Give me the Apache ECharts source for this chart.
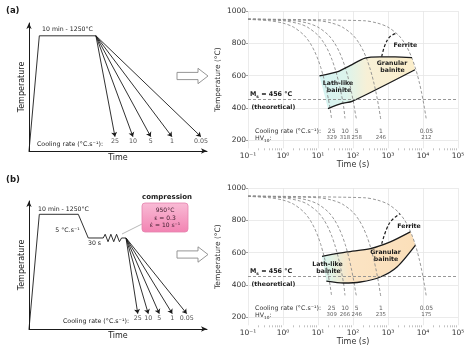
<!DOCTYPE html>
<html><head><meta charset="utf-8">
<script src="https://cdn.jsdelivr.net/npm/echarts@6/dist/echarts.min.js"></script>
<style>html,body{margin:0;padding:0;background:#fff}#c{width:474px;height:355px}</style>
</head><body><div id="c"></div>
<script>
// ---------------- DATA ----------------
const rateLabels = ['25', '10', '5', '1', '0.05'];
const hvA = [329, 318, 258, 246, 212];
const hvB = [309, 266, 246, 235, 175];
const yTicks = [200, 400, 600, 800, 1000];
const xTickLabels = ['10\u207B\u00B9', '10\u2070', '10\u00B9', '10\u00B2', '10\u00B3', '10\u2074', '10\u2075'];
const Ms = 456;

// schematic thermal cycles (arbitrary units, time vs temperature)
const profA = [[0, 0], [5.8, 90], [37.6, 90]];
const fanEndA = [48.3, 58.4, 68.4, 80.3, 96.6];
const fanEndTA = 11.2;
const profB = [[0, 0], [5.8, 89.6], [27.7, 89.6], [33.3, 71.1], [41.7, 71.1], [42.8, 74], [44.4, 68.2], [46.0, 74], [47.6, 68.2],
  [49.2, 74], [50.8, 68.2], [52.0, 71.1], [54.5, 71.1]];
const fanEndB = [61.1, 67, 73.2, 80.5, 88.6];
const fanEndTB = 12;

// cooling curves: [time s, temperature °C]
const cool25 = [[0.1, 948], [0.4, 940], [1, 925], [2, 900], [4, 850], [6, 800], [8, 750], [10, 700], [12, 650], [14, 600], [16, 550], [18, 500], [20, 450], [22, 400], [24, 345], [24.6, 326]];
const cool10 = [[0.1, 949], [1, 940], [3, 920], [5, 900], [10, 850], [15, 800], [20, 750], [25, 700], [30, 650], [35, 600], [40, 550], [45, 500], [50, 450], [55, 395], [59, 335]];
const cool5 = [[0.1, 950], [2, 940], [5, 925], [10, 900], [20, 850], [30, 800], [40, 750], [50, 700], [60, 650], [70, 600], [80, 550], [90, 500], [100, 450], [110, 400], [120, 350], [128, 326]];
const cool1 = [[0.1, 950], [10, 940], [25, 925], [50, 900], [100, 850], [150, 800], [200, 750], [250, 700], [300, 650], [350, 600], [400, 550], [450, 500], [500, 450], [550, 400], [600, 350], [625, 326]];
const cool005 = [[0.1, 950], [200, 940], [500, 925], [1000, 900], [2000, 850], [3000, 800], [4000, 750], [5000, 700], [6000, 650], [7000, 600], [8000, 550], [9000, 500], [10000, 450], [11000, 400], [12000, 350], [12500, 326]];
const coolCurves = [cool25, cool10, cool5, cool1, cool005];

// (a) transformation domains
const upperA = [[11, 598], [37, 625], [82, 662], [220, 708], [590, 716], [1600, 716], [4850, 711]];
const edgeA = [[5400, 678]];
const lowerA = [[19.3, 396], [48, 428], [94, 440], [5900, 636]];
const ferriteA = [[661, 717], [820, 789], [1140, 841], [1750, 862]];
// (b) transformation domains
const upperB = [[13, 577], [67, 604], [312, 624], [1163, 666], [4335, 728]];
const edgeB = [[5200, 690]];
const lowerB = [[17.3, 424], [54, 412], [162, 418], [603, 449], [1807, 511], [6030, 645]];
const ferriteB = [[661, 655], [918, 748], [1276, 800], [2203, 841]];

// ---------------- CHART ----------------
const F = 'DejaVu Sans';
const INK = '#1a1a1a';
const chart = echarts.init(document.getElementById('c'));

function schemX(g) {
  return { gridIndex: g, type: 'value', min: 0, max: 100, name: 'Time', nameLocation: 'middle', nameGap: 3,
    nameTextStyle: { fontFamily: F, fontSize: 8, color: INK },
    axisLine: { show: true, symbol: ['none', 'arrow'], symbolSize: [4, 6], lineStyle: { color: INK, width: 1 } },
    axisTick: { show: false }, axisLabel: { show: false }, splitLine: { show: false } };
}
function schemY(g) {
  return { gridIndex: g, type: 'value', min: 0, max: 100, name: 'Temperature', nameLocation: 'middle', nameGap: 3,
    nameTextStyle: { fontFamily: F, fontSize: 8, color: INK },
    axisLine: { show: true, symbol: ['none', 'arrow'], symbolSize: [4, 6], lineStyle: { color: INK, width: 1 } },
    axisTick: { show: false }, axisLabel: { show: false }, splitLine: { show: false } };
}
function logX(g) {
  return { gridIndex: g, type: 'log', logBase: 10, min: 0.1, max: 100000, name: 'Time (s)', nameLocation: 'middle', nameGap: 13,
    nameTextStyle: { fontFamily: F, fontSize: 8, color: '#333' },
    axisLine: { show: false }, axisTick: { show: false },
    minorTick: { show: true, splitNumber: 9, length: 2, lineStyle: { color: '#999', width: 0.6 } },
    axisLabel: { fontFamily: F, fontSize: 7.5, color: '#333', margin: 4,
      formatter: v => xTickLabels[Math.round(Math.log10(v)) + 1] },
    splitLine: { show: true, lineStyle: { color: '#e6e6e6', width: 0.8 } } };
}
function tempY(g) {
  return { gridIndex: g, type: 'value', min: 150, max: 1000, splitNumber: 4, name: 'Temperature (°C)', nameLocation: 'middle', nameGap: 26,
    nameTextStyle: { fontFamily: F, fontSize: 7.5, color: '#333' },
    axisLine: { show: false },
    axisTick: { show: true, length: 2, customValues: yTicks, lineStyle: { color: '#777', width: 0.7 } },
    axisLabel: { fontFamily: F, fontSize: 7.5, color: '#333', margin: 2, customValues: yTicks, formatter: v => String(v) },
    splitLine: { show: true, lineStyle: { color: '#e6e6e6', width: 0.8 } } };
}

function schemSeries(g, prof, fanEnd, fanEndT) {
  const origin = prof[prof.length - 1];
  return [
    { type: 'line', xAxisIndex: g, yAxisIndex: g, data: prof, showSymbol: false, symbol: 'none',
      lineStyle: { color: INK, width: 0.9 }, z: 3 },
    { type: 'lines', coordinateSystem: 'cartesian2d', xAxisIndex: g, yAxisIndex: g,
      data: fanEnd.map(x => ({ coords: [origin, [x, fanEndT]] })),
      symbol: ['none', 'arrow'], symbolSize: 4.5, lineStyle: { color: INK, width: 0.9, opacity: 1 }, z: 3 },
    { type: 'scatter', xAxisIndex: g, yAxisIndex: g, symbolSize: 0, clip: false,
      data: fanEnd.map((x, i) => ({ value: [x, fanEndT], label: { formatter: rateLabels[i] } })),
      label: { show: true, position: 'bottom', distance: 2, fontFamily: F, fontSize: 6.3, color: INK }, z: 5 }
  ];
}

function cctSeries(g, upper, edge, lower, ferrite, hv, stops) {
  const out = [];
  out.push({ type: 'custom', xAxisIndex: g, yAxisIndex: g, silent: true, z: 1, clip: false, data: [[1, 500]],
    renderItem: (params, api) => {
      const pts = upper.concat(edge, lower.slice().reverse()).map(p => api.coord(p));
      return { type: 'polygon', shape: { points: pts },
        style: { fill: new echarts.graphic.LinearGradient(0, 0, 1, 0, stops), stroke: null } };
    } });
  coolCurves.forEach((c, i) => {
    const s = { type: 'line', xAxisIndex: g, yAxisIndex: g, data: c, showSymbol: false, symbol: 'none', smooth: 0.3,
      lineStyle: { color: '#8c8c8c', width: 0.9, type: [3, 2] }, z: 2 };
    if (i === 0) s.markLine = { silent: true, symbol: 'none', label: { show: false },
      lineStyle: { type: [3, 2], color: '#8c8c8c', width: 0.9 }, data: [{ yAxis: Ms }] };
    out.push(s);
  });
  [upper, lower].forEach(b => out.push({ type: 'line', xAxisIndex: g, yAxisIndex: g, data: b, showSymbol: false, symbol: 'none',
    smooth: 0.25, lineStyle: { color: INK, width: 1.3 }, z: 4 }));
  out.push({ type: 'line', xAxisIndex: g, yAxisIndex: g, data: ferrite, showSymbol: false, symbol: 'none', smooth: 0.4,
    lineStyle: { color: INK, width: 1.2, type: [3, 2] }, z: 4 });
  out.push({ type: 'scatter', xAxisIndex: g, yAxisIndex: g, symbolSize: 0, clip: false,
    data: coolCurves.map((c, i) => ({ value: [c[c.length - 1][0], 257], label: { formatter: rateLabels[i] } })),
    label: { show: true, position: 'inside', fontFamily: F, fontSize: 6, color: '#333' }, z: 5 });
  out.push({ type: 'scatter', xAxisIndex: g, yAxisIndex: g, symbolSize: 0, clip: false,
    data: coolCurves.map((c, i) => ({ value: [c[c.length - 1][0], 215], label: { formatter: String(hv[i]) } })),
    label: { show: true, position: 'inside', fontFamily: F, fontSize: 5.4, color: '#333' }, z: 5 });
  return out;
}

function T(x, y, text, size, opts) {
  return Object.assign({ type: 'text', x: x, y: y, z: 100, silent: true,
    style: Object.assign({ text: text, fontFamily: F, fontSize: size, fill: INK, align: 'center', verticalAlign: 'middle' }, opts || {}) });
}
function hollowArrow(cy) {
  return { type: 'polygon', z: 100, silent: true,
    shape: { points: [[177, cy - 3.6], [198, cy - 3.6], [198, cy - 7.7], [208, cy], [198, cy + 7.7], [198, cy + 3.6], [177, cy + 3.6]] },
    style: { fill: '#fff', stroke: '#8a8a8a', lineWidth: 0.9 } };
}
const msRich = { m: { fontFamily: F, fontSize: 6.4, fontWeight: 'bold', lineHeight: 9, fill: INK },
  s: { fontFamily: F, fontSize: 4.3, fontWeight: 'bold', lineHeight: 5, verticalAlign: 'bottom', fill: INK } };
const hvRich = { m: { fontFamily: F, fontSize: 6.3, lineHeight: 9, fill: '#333' },
  s: { fontFamily: F, fontSize: 4.3, lineHeight: 5, verticalAlign: 'bottom', fill: '#333' } };

function cctTexts(dy, L) {
  const B = { fontWeight: 'bold' };
  return [
    T(L.lath[0], L.lath[1] + dy, 'Lath-like', 6.2, B),
    T(L.lath[0] + 1, L.lath[1] + 7.2 + dy, 'bainite', 6.2, B),
    T(L.gran[0], L.gran[1] + dy, 'Granular', 6.2, B),
    T(L.gran[0] + 0.5, L.gran[1] + 7.4 + dy, 'bainite', 6.2, B),
    T(L.fer[0], L.fer[1] + dy, 'Ferrite', 6.2, B),
    { type: 'text', x: 250, y: 94.3 + dy, z: 100, silent: true,
      style: { text: '{m|M}{s|s}{m| = 456 °C}', rich: msRich, align: 'left', verticalAlign: 'middle' } },
    T(251.5, 107.7 + dy, '(theoretical)', 6.2, { fontWeight: 'bold', align: 'left' }),
    T(255, 131 + dy, 'Cooling rate (°C.s\u207B\u00B9):', 6.3, { align: 'left', fill: '#333' }),
    { type: 'text', x: 255, y: 137.9 + dy, z: 100, silent: true,
      style: { text: '{m|HV}{s|10}{m|:}', rich: hvRich, align: 'left', verticalAlign: 'middle' } }
  ];
}

const graphics = [
  T(6, 11, '(a)', 8.5, { fontWeight: 'bold', align: 'left' }),
  T(6, 180, '(b)', 8.5, { fontWeight: 'bold', align: 'left' }),
  T(67.5, 29, '10 min - 1250°C', 6.2),
  T(70, 144, 'Cooling rate (°C.s\u207B\u00B9):', 6.3),
  T(63.5, 209, '10 min - 1250°C', 6.2),
  T(67.5, 230, '5 °C.s\u207B\u00B9', 6.2),
  T(94.5, 243, '30 s', 6.2),
  T(96, 321.3, 'Cooling rate (°C.s\u207B\u00B9):', 6.3),
  T(167, 197, 'compression', 7, { fontWeight: 'bold' }),
  { type: 'line', z: 99, silent: true, shape: { x1: 142, y1: 224, x2: 122, y2: 234 }, style: { stroke: '#9a9a9a', lineWidth: 0.7 } },
  { type: 'rect', z: 99, silent: true, shape: { x: 142, y: 203, width: 46, height: 29, r: 3 },
    style: { fill: new echarts.graphic.LinearGradient(0, 0, 0, 1, [{ offset: 0, color: '#f9bcd6' }, { offset: 1, color: '#f283b2' }]),
      stroke: '#e583ad', lineWidth: 0.8 } },
  T(165, 210.5, '950°C', 6, { fill: '#3a1a2a' }),
  T(165, 218, '\u03B5 = 0.3', 6, { fill: '#3a1a2a' }),
  T(165, 225.5, '\u03B5\u0307 = 10 s\u207B\u00B9', 6, { fill: '#3a1a2a' }),
  hollowArrow(76),
  hollowArrow(254.5)
].concat(
  cctTexts(0, { lath: [338, 83.3], gran: [392, 63.3], fer: [405.3, 45] }),
  cctTexts(177, { lath: [327.5, 87.3], gran: [385.5, 75], fer: [409, 49.3] })
);

const option = {
  animation: false,
  backgroundColor: '#fff',
  textStyle: { fontFamily: F },
  grid: [
    { left: 29, top: 23, width: 178, height: 128 },
    { left: 248, top: 11, width: 210, height: 137.3 },
    { left: 29, top: 201, width: 178, height: 128 },
    { left: 248, top: 188, width: 210, height: 137.3 }
  ],
  xAxis: [schemX(0), logX(1), schemX(2), logX(3)],
  yAxis: [schemY(0), tempY(1), schemY(2), tempY(3)],
  series: [].concat(
    schemSeries(0, profA, fanEndA, fanEndTA),
    schemSeries(2, profB, fanEndB, fanEndTB),
    cctSeries(1, upperA, edgeA, lowerA, ferriteA, hvA,
      [{ offset: 0, color: '#d5f3f2' }, { offset: 0.28, color: '#dcf4ec' }, { offset: 0.5, color: '#f7f0d6' }, { offset: 1, color: '#fbeecb' }]),
    cctSeries(3, upperB, edgeB, lowerB, ferriteB, hvB,
      [{ offset: 0, color: '#d8f4f1' }, { offset: 0.1, color: '#e2f3e6' }, { offset: 0.3, color: '#fbe4c4' }, { offset: 1, color: '#fbdfb9' }])
  ),
  graphic: graphics
};
chart.setOption(option);
</script></body></html>
